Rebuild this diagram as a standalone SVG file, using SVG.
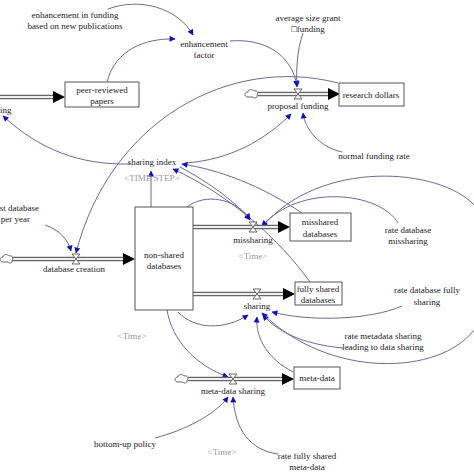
<svg xmlns="http://www.w3.org/2000/svg" width="474" height="474" viewBox="0 0 474 474">
<style>
text{font-family:"Liberation Serif","Times New Roman",serif;font-size:9px;fill:#222;text-anchor:middle}
.g{fill:#999}
.box{fill:#fff;stroke:#555;stroke-width:1}
.link{fill:none;stroke:#6a6a96;stroke-width:1;marker-end:url(#ah)}
.pipeo{stroke:#666;stroke-width:4.5;fill:none}
.pipei{stroke:#eee;stroke-width:1.8;fill:none}
.valve{fill:#fff;stroke:#444;stroke-width:0.8}
.cloud{fill:#fff;stroke:#555;stroke-width:0.9}
</style>
<defs>
<marker id="ah" viewBox="0 0 10 10" refX="9" refY="5" markerWidth="7" markerHeight="6" orient="auto" markerUnits="userSpaceOnUse">
<path d="M0,0 L10,5 L0,10 Z" fill="#1010c0"/>
</marker>
<marker id="fh" viewBox="0 0 12 10" refX="12" refY="5" markerWidth="12" markerHeight="9" orient="auto" markerUnits="userSpaceOnUse">
<path d="M0,0 L12,5 L0,10 Z" fill="#000"/>
</marker>
</defs>
<rect width="474" height="474" fill="#fff"/>

<g id="connectors">
<path class="link" d="M108,9 C140,-3 178,8 193,35"/>
<path class="link" d="M107,82 C115,50 145,38 175,39"/>
<path class="link" d="M230,41 C265,38 292,55 297,86"/>
<path class="link" d="M303,33 C297,50 296,70 297,87"/>
<path class="link" d="M338,83 C230,55 110,120 76,253"/>
<path class="link" d="M130,164 C80,165 40,150 3,116"/>
<path class="link" d="M185,163 C230,160 265,140 291,114"/>
<path class="link" d="M342,152 C320,147 305,130 303,113"/>
<path class="link" d="M302,213 C260,185 220,170 182,164"/>
<path class="link" d="M310,282 C280,240 230,195 173,169"/>
<path class="link" d="M151,207 L151,171"/>
<path class="link" d="M45,225 C60,230 68,240 71,251"/>
<path class="link" d="M187,207 C205,193 235,198 250,219"/>
<path class="link" d="M180,167 C210,183 237,203 250,220"/>
<path class="link" d="M398,223 C380,192 300,183 262,226"/>
<path class="link" d="M474,205 C440,168 320,158 262,227"/>
<path class="link" d="M178,312 C195,330 225,330 248,315"/>
<path class="link" d="M293,372 C270,360 255,340 257,317"/>
<path class="link" d="M343,348 C310,345 280,335 263,315"/>
<path class="link" d="M474,330 C440,375 330,380 262,313"/>
<path class="link" d="M402,306 C370,320 310,322 272,312"/>
<path class="link" d="M167,310 C172,340 195,365 228,377"/>
<path class="link" d="M155,438 C185,430 215,415 228,397"/>
<path class="link" d="M278,454 C250,450 235,430 233,397"/>
</g>

<g id="flows">
<line class="pipeo" x1="0" y1="97" x2="54" y2="97"/><line class="pipei" x1="0" y1="97" x2="54" y2="97"/>
<path d="M53,91 L65,97 L53,103 Z" fill="#000"/>
<line class="pipeo" x1="258" y1="94" x2="329" y2="94"/><line class="pipei" x1="258" y1="94" x2="329" y2="94"/>
<path d="M328,88 L340,94 L328,100 Z" fill="#000"/>
<line class="pipeo" x1="12" y1="259" x2="124" y2="259"/><line class="pipei" x1="12" y1="259" x2="124" y2="259"/>
<path d="M123,253 L135,259 L123,265 Z" fill="#000"/>
<line class="pipeo" x1="193" y1="227" x2="279" y2="227"/><line class="pipei" x1="193" y1="227" x2="279" y2="227"/>
<path d="M278,221 L290,227 L278,233 Z" fill="#000"/>
<line class="pipeo" x1="193" y1="294" x2="284" y2="294"/><line class="pipei" x1="193" y1="294" x2="284" y2="294"/>
<path d="M283,288 L295,294 L283,300 Z" fill="#000"/>
<line class="pipeo" x1="188" y1="379" x2="283" y2="379"/><line class="pipei" x1="188" y1="379" x2="283" y2="379"/>
<path d="M282,373 L294,379 L282,385 Z" fill="#000"/>
</g>

<g id="clouds">
<path class="cloud" d="M248,97 C244,97 244,92 248,92 C248,89 253,89 254,91 C257,90 259,93 257,95 C258,98 254,99 253,97 Z"/>
<path class="cloud" d="M3,262 C-1,262 -1,257 3,257 C3,254 8,254 9,256 C12,255 14,258 12,260 C13,263 9,264 8,262 Z"/>
<path class="cloud" d="M178,382 C174,382 174,377 178,377 C178,374 183,374 184,376 C187,375 189,378 187,380 C188,383 184,384 183,382 Z"/>
</g>

<g id="valves">
<path class="valve" d="M294,89 L302,89 L294,99 L302,99 Z"/>
<path class="valve" d="M72,254 L80,254 L72,264 L80,264 Z"/>
<path class="valve" d="M249,222 L257,222 L249,232 L257,232 Z"/>
<path class="valve" d="M253,289 L261,289 L253,299 L261,299 Z"/>
<path class="valve" d="M229,374 L237,374 L229,384 L237,384 Z"/>
</g>

<g id="peer-reviewed-papers"><rect class="box" x="65" y="82" width="74" height="25"/><text x="102" y="93">peer-reviewed</text><text x="102" y="104">papers</text></g>
<g id="research-dollars"><rect class="box" x="339" y="83" width="65" height="23"/><text x="371" y="98">research dollars</text></g>
<g id="non-shared-databases"><rect class="box" x="135" y="207" width="58" height="103"/><text x="164" y="258">non-shared</text><text x="164" y="269">databases</text></g>
<g id="misshared-databases"><rect class="box" x="290" y="213" width="61" height="28"/><text x="320" y="225">misshared</text><text x="320" y="237">databases</text></g>
<g id="fully-shared-databases"><rect class="box" x="295" y="282" width="47" height="23"/><text x="318" y="292">fully shared</text><text x="318" y="303">databases</text></g>
<g id="meta-data"><rect class="box" x="294" y="367" width="46" height="22"/><text x="317" y="381">meta-data</text></g>

<g id="labels">
<text x="75" y="18">enhancement in funding</text>
<text x="75" y="29">based on new publications</text>
<text x="204" y="47">enhancement</text>
<text x="204" y="58">factor</text>
<text x="308" y="21">average size grant</text>
<text x="308" y="32">□funding</text>
<text x="298" y="109">proposal funding</text>
<text x="0" y="113" style="text-anchor:start">ing</text>
<text x="374" y="159">normal funding rate</text>
<text x="152" y="165">sharing index</text>
<text class="g" x="152" y="181">&lt;TIME STEP&gt;</text>
<text x="39" y="211" style="text-anchor:end">st database</text>
<text x="30" y="222" style="text-anchor:end">per year</text>
<text x="74" y="272">database creation</text>
<text x="253" y="243">missharing</text>
<text class="g" x="253" y="259">&lt;Time&gt;</text>
<text x="408" y="233">rate database</text>
<text x="408" y="244">missharing</text>
<text x="257" y="309">sharing</text>
<text x="427" y="293">rate database fully</text>
<text x="427" y="305">sharing</text>
<text class="g" x="132" y="339">&lt;Time&gt;</text>
<text x="383" y="339">rate metadata sharing</text>
<text x="383" y="350">leading to data sharing</text>
<text x="233" y="394">meta-data sharing</text>
<text x="125" y="447">bottom-up policy</text>
<text class="g" x="222" y="455">&lt;Time&gt;</text>
<text x="307" y="459">rate fully shared</text>
<text x="307" y="470">meta-data</text>
</g>
</svg>
